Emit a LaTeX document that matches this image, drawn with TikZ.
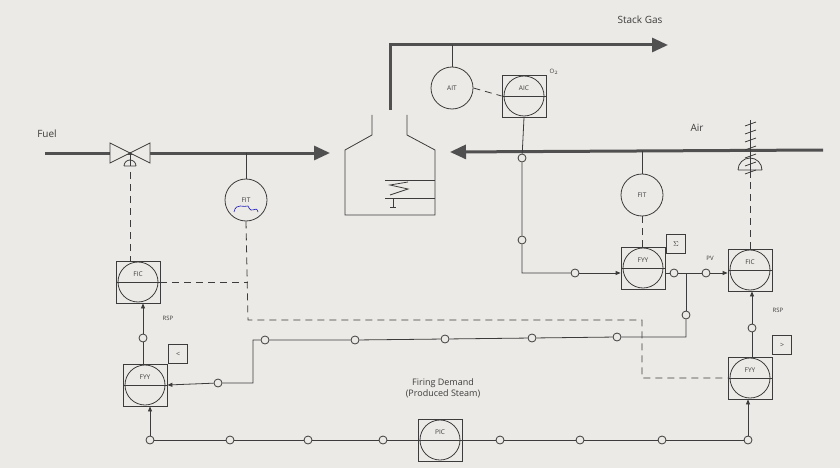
\documentclass[tikz,border=0pt]{standalone}
\usepackage{fontspec}
\setmainfont{Open Sans}[Ligatures=NoCommon]
\usetikzlibrary{arrows.meta}
\definecolor{bg}{HTML}{ECEAE6}
\definecolor{ln}{HTML}{3C3C3C}
\begin{document}
\begin{tikzpicture}[x=1pt,y=-1pt,line width=0.8pt,draw=ln,
  ctrl/.style={draw,minimum width=44pt,minimum height=42pt,inner sep=0,
    path picture={\draw (path picture bounding box.center) circle (20pt);
      \draw (path picture bounding box.west) -- (path picture bounding box.east);},
    label={[yshift=8pt,font=\fontsize{6.5}{6.5}\selectfont,text=ln]center:#1}},
  inst/.style={draw,circle,minimum size=42pt,inner sep=0,font=\fontsize{6.5}{6.5}\selectfont,text=ln},
  sbox/.style={draw,minimum size=19pt,inner sep=0,font=\fontsize{7}{7}\selectfont,text=ln},
  dot/.style={draw,circle,fill=bg,minimum size=8pt,inner sep=0},
  pipe/.style={line width=3pt,draw=ln!90},
  sig/.style={dashed,dash pattern=on 7pt off 5pt},
  tip/.style={-{Triangle[length=5pt,width=4pt]}},
  lbl/.style={font=\fontsize{6}{6}\selectfont,text=ln}]
\fill[bg] (0,0) rectangle (840,468);
\useasboundingbox (0,0) rectangle (840,468);
% furnace
\draw (372,115) -- (372,135) -- (345,150) -- (345,215) -- (435,215) -- (435,150) -- (407,135) -- (407,115);
\draw (385,180) -- (435,180) (385,198) -- (435,198);
\draw (408,182) -- (390,185) -- (408,189) -- (390,195);
\draw (393,198) -- (393,207) (390,207) -- (396,207);
% pipes
\draw[pipe,-{Triangle[length=16pt,width=14pt]}] (390,110) -- (390,45) -- (668,45);
\node[text=ln] at (640,20) {Stack Gas};
\draw[pipe,-{Triangle[length=16pt,width=14pt]}] (45,153) -- (330,153);
\node[text=ln] at (47,134) {Fuel};
\draw[pipe,-{Triangle[length=16pt,width=14pt]}] (823,150) -- (450,152);
\node[text=ln] at (697,128) {Air};
% valve
\draw[fill=bg] (110,143) -- (110,163) -- (150,143) -- (150,163) -- cycle;
\draw (130,153) -- (130,166);
\draw (124,166) -- (136,166) (124,166) arc (180:360:6);
\coordinate (va) at (130,172);
% damper
\draw (750,120) -- (750,178);
\foreach \y in {122,130,...,174} \draw (745,\y+4) -- (756,\y);
\draw (738,170) -- (762,170) (738,170) arc (180:360:12);
\coordinate (da) at (750,182);
% instruments
\node[inst] (fitf) at (246,200) {F{}IT};
\draw (fitf.north) -- (246,153);
\draw[blue!60!ln,line width=0.6pt] (234,212) .. controls (236,202) and (244,208) .. (248,206) .. controls (252,216) and (256,204) .. (258,212);
\node[ctrl=FIC] (ficf) at (138,282) {};
\node[ctrl=FYY] (fyyf) at (145,385) {};
\node[sbox] (ltf) at (178,354) {<};
\node[inst] (ait) at (452,88) {AIT};
\draw (ait.north) -- (452,45);
\node[ctrl=AIC] (aic) at (524,96) {};
\node[lbl,anchor=west] at (546,72) {O$_2$};
\node[inst] (fita) at (642,195) {F{}IT};
\draw (fita.north) -- (642,151);
\node[ctrl=FYY] (fyya) at (643,268) {};
\node[sbox] (sum) at (676,244) {$\Sigma$};
\node[ctrl=FIC] (fica) at (750,270) {};
\node[ctrl=FYY] (fyyb) at (750,378) {};
\node[sbox] (gt) at (782,345) {>};
\node[ctrl=PIC] (pic) at (440,440) {};
\node[text=ln,align=center,font=\small] at (443,388) {Firing Demand\\(Produced Steam)};
\node[lbl] at (168,318) {RSP};
\node[lbl] at (778,310) {RSP};
\node[lbl] at (710,258) {PV};
% dashed signals
\draw[sig] (va) -- (ficf.north -| va);
\draw[sig] (ficf.east) -- (248,282);
\draw[sig] (fitf.south) -- (248,320) -- (642,320) -- (642,378) -- (fyyb.west);
\draw[sig] (ait.east) -- (aic.west);
\draw[sig] (fita.south) -- (fyya.north -| fita);
\draw[sig] (da) -- (fica.north);
% solid signals
\node[dot] (d1) at (143,338) {};
\draw[tip] (fyyf.north -| d1) -- (d1) -- (ficf.south -| d1);
\node[dot] (c1) at (218,383) {};
\node[dot] (c2) at (265,340) {};
\node[dot] (c3) at (355,340) {};
\node[dot] (c4) at (445,339) {};
\node[dot] (c5) at (532,338) {};
\node[dot] (c6) at (617,337) {};
\node[dot] (c7) at (686,315) {};
\coordinate (j) at (686,273);
\draw (c7) -- (686,337) -- (c6) -- (c5) -- (c4) -- (c3) -- (c2) -- (253,340) -- (253,383) -- (c1);
\draw[tip] (c1) -- (fyyf.east);
\draw (c7) -- (j);
\node[dot] (o1) at (674,273) {};
\node[dot] (o2) at (706,273) {};
\draw (fyya.east |- o1) -- (o1) -- (o2);
\draw[tip] (o2) -- (fica.west |- o2);
\node[dot] (a1) at (522,158) {};
\node[dot] (a2) at (522,240) {};
\node[dot] (a3) at (575,273) {};
\draw (aic.south) -- (a1) -- (a2) -- (522,273) -- (a3);
\draw[tip] (a3) -- (fyya.west |- a3);
\node[dot] (r1) at (752,328) {};
\draw[tip] (fyyb.north -| r1) -- (r1) -- (fica.south -| r1);
\node[dot] (b0) at (150,440) {};
\node[dot] (b1) at (230,440) {};
\node[dot] (b2) at (308,440) {};
\node[dot] (b3) at (383,440) {};
\node[dot] (b4) at (500,440) {};
\node[dot] (b5) at (580,440) {};
\node[dot] (b6) at (662,440) {};
\node[dot] (b7) at (748,440) {};
\draw (b0) -- (b1) -- (b2) -- (b3) -- (pic) -- (b4) -- (b5) -- (b6) -- (b7);
\draw[tip] (b0) -- (fyyf.south -| b0);
\draw[tip] (b7) -- (fyyb.south -| b7);
\end{tikzpicture}
\end{document}
